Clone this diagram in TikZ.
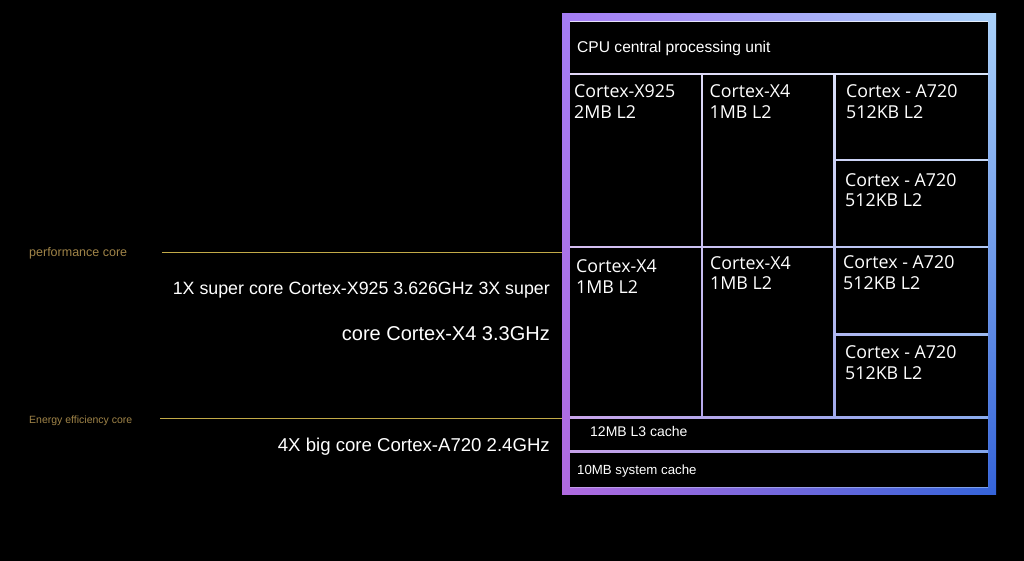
\documentclass[tikz,border=0pt]{standalone}
\usepackage{fontspec}
\usetikzlibrary{shadings}
\setmainfont{Liberation Sans}
\newfontfamily\cellfont{Open Sans}
\definecolor{goldline}{HTML}{C2AA48}
\definecolor{goldtext}{HTML}{A08448}
\definecolor{frUL}{HTML}{A47CF4}
\definecolor{frUR}{HTML}{AAD2FA}
\definecolor{frLL}{HTML}{B06ADF}
\definecolor{frLR}{HTML}{3464DA}
\definecolor{inUL}{HTML}{E6DEFA}
\definecolor{inUR}{HTML}{E4EEFC}
\definecolor{inLL}{HTML}{C49CE8}
\definecolor{inLR}{HTML}{7AA0EC}
\tikzset{
  cell/.style={fill=black, draw=none, inner sep=0pt, outer sep=0pt, anchor=north west},
  celltext/.style={text=white, inner sep=0pt, anchor=north west, align=left,
    font=\cellfont\fontsize{17.8}{20.5}\selectfont},
  cachetext/.style={text=white, inner sep=0pt, anchor=base west},
  desctext/.style={text=white, inner sep=0pt, anchor=base east},
  coretag/.style={text=goldtext, inner sep=0pt, anchor=base west},
  tagline/.style={draw=goldline, line width=1.5pt}
}
\begin{document}
\begin{tikzpicture}[x=1pt,y=-1pt]
\useasboundingbox[fill=black] (0,0) rectangle (1024,561);

% outer gradient frame
\node[anchor=north west, inner sep=0pt, outer sep=0pt, minimum width=434pt, minimum height=480pt,
  upper left=frUL, upper right=frUR, lower left=frLL, lower right=frLR]
  (frame) at (562,14) {};
% inner light area (shows as separator lines)
\node[anchor=north west, inner sep=0pt, outer sep=0pt, minimum width=418pt, minimum height=465pt,
  upper left=inUL, upper right=inUR, lower left=inLL, lower right=inLR]
  (inner) at (570,22) {};

% cells
\node[cell, minimum width=418pt, minimum height=51pt] (hdr) at (570,22) {};
\node[cell, minimum width=130.5pt, minimum height=171pt] (r1c1) at (570,75) {};
\node[cell, minimum width=130.5pt, minimum height=171pt] (r1c2) at (702.5,75) {};
\node[cell, minimum width=152.5pt, minimum height=84pt] (r1c3a) at (835.5,75) {};
\node[cell, minimum width=152.5pt, minimum height=84.5pt] (r1c3b) at (835.5,161.5) {};
\node[cell, minimum width=130.5pt, minimum height=168pt] (r2c1) at (570,248) {};
\node[cell, minimum width=130.5pt, minimum height=168pt] (r2c2) at (702.5,248) {};
\node[cell, minimum width=152.5pt, minimum height=85pt] (r2c3a) at (835.5,248) {};
\node[cell, minimum width=152.5pt, minimum height=80.5pt] (r2c3b) at (835.5,335.5) {};
\node[cell, minimum width=418pt, minimum height=31.5pt] (l3) at (570,418.5) {};
\node[cell, minimum width=418pt, minimum height=34pt] (sys) at (570,453) {};

% cell texts
\node[cachetext, font=\fontsize{15.6}{18}\selectfont] (thdr) at (577,52.7) {CPU central processing unit};
\node[celltext] (t11) at (574,84.5) {Cortex-X925\\2MB L2};
\node[celltext] (t12) at (709.5,84.5) {Cortex-X4\\1MB L2};
\node[celltext] (t13a) at (846,84.5) {Cortex - A720\\512KB L2};
\node[celltext] (t13b) at (845,173) {Cortex - A720\\512KB L2};
\node[celltext] (t21) at (576,259.5) {Cortex-X4\\1MB L2};
\node[celltext] (t22) at (710,256.2) {Cortex-X4\\1MB L2};
\node[celltext] (t23a) at (843,255.5) {Cortex - A720\\512KB L2};
\node[celltext] (t23b) at (845,345.5) {Cortex - A720\\512KB L2};
\node[cachetext, font=\fontsize{14}{16}\selectfont] (tl3) at (590,436.7) {12MB L3 cache};
\node[cachetext, font=\fontsize{13.25}{16}\selectfont] (tsys) at (577,474) {10MB system cache};

% left side labels
\node[coretag, font=\fontsize{12.5}{14}\selectfont] (perf) at (29,256.7) {performance core};
\node[coretag, font=\fontsize{10.5}{13}\selectfont] (eff) at (29,423.3) {Energy efficiency core};
\coordinate (pl) at (162,252.3);
\coordinate (el) at (160,418.5);
\draw[tagline] (pl) -- (pl -| frame.west);
\draw[tagline] (el) -- (el -| frame.west);

\node[desctext, font=\fontsize{17.8}{20}\selectfont] (d1) at (550,294) {1X super core Cortex-X925 3.626GHz 3X super};
\node[desctext, font=\fontsize{20}{22}\selectfont] (d2) at (550,340.7) {core Cortex-X4 3.3GHz};
\node[desctext, font=\fontsize{18.6}{21}\selectfont] (d3) at (550,451) {4X big core Cortex-A720 2.4GHz};
\end{tikzpicture}
\end{document}
